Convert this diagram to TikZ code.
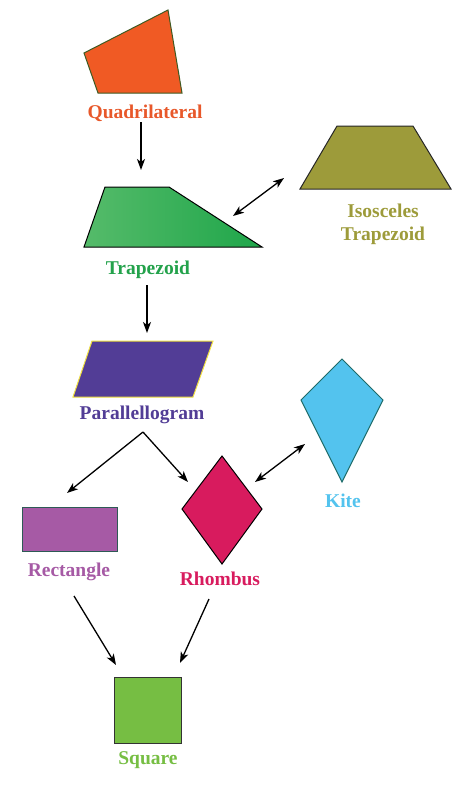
\documentclass[tikz,border=0pt]{standalone}
\usepackage{fontspec}
\setmainfont{Liberation Serif}
\usetikzlibrary{arrows.meta}
\definecolor{cQuad}{HTML}{F05A24}
\definecolor{cQuadT}{HTML}{E8582A}
\definecolor{cTrapL}{HTML}{55BB6A}
\definecolor{cTrapR}{HTML}{1FA64A}
\definecolor{cTrapT}{HTML}{23A24B}
\definecolor{cIso}{HTML}{9D9B3A}
\definecolor{cPara}{HTML}{523D96}
\definecolor{cParaE}{HTML}{F0E040}
\definecolor{cRect}{HTML}{A65AA5}
\definecolor{cRectE}{HTML}{2E5A55}
\definecolor{cRhom}{HTML}{D81B5E}
\definecolor{cKite}{HTML}{53C3EE}
\definecolor{cKiteE}{HTML}{1E6B68}
\definecolor{cSq}{HTML}{76BE43}
\definecolor{cQuadE}{HTML}{3E5A22}
\tikzset{
  lbl/.style={font=\bfseries\fontsize{19.5}{22}\selectfont, inner sep=0pt, anchor=center},
  shp/.style={line width=1pt, line join=miter},
  conn/.style={line width=1.3pt, -{Stealth[length=11pt,width=8pt,inset=3pt]}},
  dconn/.style={line width=1.3pt, {Stealth[length=11pt,width=8pt,inset=3pt]}-{Stealth[length=11pt,width=8pt,inset=3pt]}}
}
\begin{document}
\begin{tikzpicture}[x=1pt,y=-1pt]
\useasboundingbox[fill=white] (0,0) rectangle (474,785);
% shapes
\draw[shp, fill=cQuad, draw=cQuadE] (84,53) -- (168,10) -- (182,93) -- (98,93) -- cycle;
\shade[shp, left color=cTrapL, right color=cTrapR, draw=black] (105,187) -- (169,187) -- (262,247) -- (84,247) -- cycle;
\draw[shp, fill=cIso, draw=black!85] (337,126) -- (413,126) -- (451,189) -- (300,189) -- cycle;
\draw[shp, fill=cPara, draw=cParaE] (92,341) -- (213,341) -- (193,397) -- (73,397) -- cycle;
\draw[shp, fill=cRect, draw=cRectE] (22,507) rectangle (117,551);
\draw[shp, fill=cRhom, draw=black] (222,456) -- (262,509) -- (222,564) -- (182,509) -- cycle;
\draw[shp, fill=cKite, draw=cKiteE] (342,359) -- (383,400) -- (342,482) -- (301,400) -- cycle;
\draw[shp, fill=cSq, draw=black!80] (114,677) rectangle (181,743);
% labels
\node[lbl, text=cQuadT] (lquad) at (145,113) {Quadrilateral};
\node[lbl, text=cTrapT] (ltrap) at (148,270) {Trapezoid};
\node[lbl, text=cIso, align=center, font=\bfseries\fontsize{19.5}{23}\selectfont] (liso) at (383,224) {Isosceles\\Trapezoid};
\node[lbl, text=cPara] (lpara) at (142,415) {Parallellogram};
\node[lbl, text=cRect] (lrect) at (69,572) {Rectangle};
\node[lbl, text=cRhom] (lrhom) at (220,579) {Rhombus};
\node[lbl, text=cKite] (lkite) at (343,501) {Kite};
\node[lbl, text=cSq] (lsq) at (148,760) {Square};
% connector end points
\coordinate (a1s) at (141,122); \coordinate (a1e) at (141,170);
\coordinate (a2s) at (233,216); \coordinate (a2e) at (284,178);
\coordinate (a3s) at (147,285); \coordinate (a3e) at (147,333);
\coordinate (a4s) at (143,432); \coordinate (a4e) at (67,493);
\coordinate (a5e) at (188,482);
\coordinate (a6s) at (255,482); \coordinate (a6e) at (305,444);
\coordinate (a7s) at (74,596); \coordinate (a7e) at (116,665);
\coordinate (a8s) at (209,599); \coordinate (a8e) at (180,663);
% connectors
\draw[conn] (a1s) -- (a1e);
\draw[dconn] (a2s) -- (a2e);
\draw[conn] (a3s) -- (a3e);
\draw[conn] (a4s) -- (a4e);
\draw[conn] (a4s) -- (a5e);
\draw[dconn] (a6s) -- (a6e);
\draw[conn] (a7s) -- (a7e);
\draw[conn] (a8s) -- (a8e);
\end{tikzpicture}
\end{document}
